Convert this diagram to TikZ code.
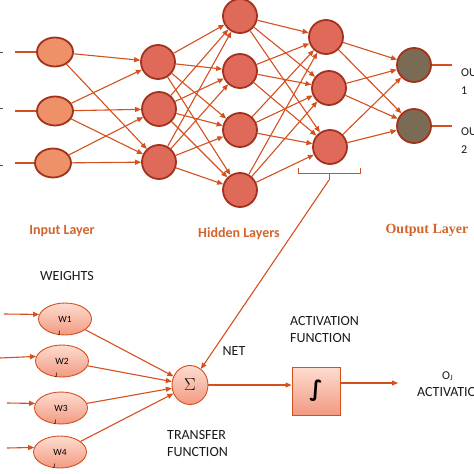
\documentclass[tikz,border=0pt]{standalone}
\usepackage{fontspec}
\setmainfont{Carlito}
\newfontfamily\layerserif{Liberation Serif}
\newfontfamily\glyphsans{DejaVu Sans}
\usetikzlibrary{arrows.meta,shapes.geometric}

\definecolor{edgeline}{HTML}{D4501E}
\definecolor{rimdark}{HTML}{A3321C}
\definecolor{inputfill}{HTML}{EE9068}
\definecolor{hiddenfill}{HTML}{E06A5A}
\definecolor{outputfill}{HTML}{7B6B55}
\definecolor{layertext}{HTML}{D2642C}
\definecolor{pinklight}{HTML}{FDDCD0}
\definecolor{pinkdeep}{HTML}{F29A82}

\tikzset{
    neuron/.style={circle, draw=rimdark, line width=1.8pt, minimum size=34pt, inner sep=0pt, fill=hiddenfill},
    inneuron/.style={ellipse, draw=rimdark, line width=1.8pt, minimum width=36pt, minimum height=29pt, inner sep=0pt, fill=inputfill},
    outneuron/.style={neuron, fill=outputfill},
    wire/.style={draw=edgeline, line width=1.1pt, -{Triangle[length=6pt,width=5pt]}},
    stub/.style={draw=edgeline, line width=1.1pt},
    weightnode/.style={ellipse, draw=edgeline, line width=0.9pt, top color=pinklight, bottom color=pinkdeep, minimum width=53pt, minimum height=32pt, inner sep=0pt, font=\fontsize{9.5}{10}\selectfont},
    layerlabel/.style={text=layertext, font=\fontsize{14}{16}\selectfont\bfseries, inner sep=0pt},
    plaintext/.style={text=black!90, font=\fontsize{14}{17.5}\selectfont, align=left, inner sep=0pt},
    sidetext/.style={plaintext, font=\fontsize{12}{14}\selectfont}
}

\begin{document}
\begin{tikzpicture}[x=1pt, y=-1pt]
        \clip (0, 0) rectangle (474, 474);

        % network
        \node[inneuron] (i1) at ( 55,  52) {};
        \node[inneuron] (i2) at ( 55, 111) {};
        \node[inneuron] (i3) at ( 53, 163) {};

        \node[neuron] (a1) at (158,  62) {};
        \node[neuron] (a2) at (159, 109) {};
        \node[neuron] (a3) at (159, 162) {};

        \node[neuron] (b1) at (240,  16) {};
        \node[neuron] (b2) at (240,  71) {};
        \node[neuron] (b3) at (240, 130) {};
        \node[neuron] (b4) at (240, 190) {};

        \node[neuron] (c1) at (326,  37) {};
        \node[neuron] (c2) at (329,  88) {};
        \node[neuron] (c3) at (330, 147) {};

        \node[outneuron] (o1) at (414,  65) {};
        \node[outneuron] (o2) at (414, 126) {};

        \foreach \s/\t in {i1/a1, i1/a3, i2/a1, i2/a2, i2/a3, i3/a2, i3/a3}
            \draw[wire] (\s) -- (\t);
        \foreach \s in {a1, a2, a3}
            \foreach \t in {b1, b2, b3, b4}
                \draw[wire] (\s) -- (\t);
        \foreach \s in {b1, b2, b3, b4}
            \foreach \t in {c1, c2, c3}
                \draw[wire] (\s) -- (\t);
        \foreach \s in {c1, c2, c3}
            \foreach \t in {o1, o2}
                \draw[wire] (\s) -- (\t);

        \foreach \n/\y in {1/52, 2/111, 3/163} {
            \coordinate (s\n) at (15, \y);
            \draw[stub] (s\n) -- (i\n);
        }
        \draw[black!70, line width=0.8pt] (0, 52) -- (3, 52);
        \draw[black!70, line width=0.8pt] (0, 108) -- (3, 108);
        \draw[black!70, line width=0.8pt] (0, 165) -- (3, 165);

        \coordinate (e1) at (452,  65);
        \coordinate (e2) at (452, 126);
        \draw[stub] (o1) -- (e1);
        \draw[stub] (o2) -- (e2);
        \node[sidetext, anchor=base west] (out1) at (461,  76) {OUTPUT};
        \node[sidetext, anchor=base west] (num1) at (461,  94) {1};
        \node[sidetext, anchor=base west] (out2) at (461, 135) {OUTPUT};
        \node[sidetext, anchor=base west] (num2) at (461, 153) {2};

        % bracket under last hidden layer
        \draw[stub, line width=0.9pt] (298, 168) -- (298, 173) -- (360, 173) -- (360, 168);
        \coordinate (brk) at (329, 180);
        \draw[stub, line width=0.9pt] (329, 173) -- (brk);

        \node[layerlabel, anchor=base] (lin) at ( 62, 234) {Input Layer};
        \node[layerlabel, anchor=base] (lhid) at (239, 237) {Hidden Layers};
        \node[layerlabel, anchor=base, font=\fontsize{14}{16}\selectfont\layerserif\bfseries] (lout) at (427, 233) {Output Layer};

        % single neuron
        \node[plaintext] (wlab) at ( 67, 276) {WEIGHTS};
        \node[weightnode] (w1) at ( 65, 319) {W1};
        \node[weightnode] (w2) at ( 62, 361) {W2};
        \node[weightnode] (w3) at ( 61, 408) {W3};
        \node[weightnode] (w4) at ( 60, 452) {W4};
        \foreach \n in {1, 2, 3, 4}
            \node[font=\fontsize{7}{7}\selectfont, inner sep=0pt] (j\n) at ([shift={(-6, 14)}]w\n.center) {J};

        \coordinate (x1) at (4, 314);
        \coordinate (x2) at (0, 358);
        \coordinate (x3) at (7, 403);
        \coordinate (x4) at (7, 448);
        \draw[wire] (x1) -- (w1.170);
        \draw[wire] (x2) -- (w2.170);
        \draw[wire] (x3) -- (w3.170);
        \draw[wire] (x4) -- (w4.170);

        \node[ellipse, draw=edgeline, line width=0.9pt, top color=pinklight, bottom color=pinkdeep, minimum width=36pt, minimum height=39pt, inner sep=0pt, font=\fontsize{16}{16}\selectfont] (sig) at (190, 385) {$\Sigma$};
        \foreach \n in {1, 2, 3, 4}
            \draw[wire] (w\n) -- (sig);
        \draw[wire] (brk) -- (sig);
        \node[plaintext] (net) at (234, 351) {NET};
        \node[plaintext, anchor=north west] (tf) at (167, 430) {TRANSFER\\FUNCTION};

        \node[draw=edgeline, line width=0.9pt, top color=pinklight, bottom color=pinkdeep, minimum size=48pt, inner sep=0pt, font=\fontsize{22}{22}\selectfont\glyphsans\bfseries] (act) at (316, 391) {∫};
        \draw[wire] (sig) -- (sig -| act.west);
        \node[plaintext, anchor=north west] (af) at (290, 316) {ACTIVATION\\FUNCTION};

        \coordinate (oj) at (398, 383);
        \draw[wire] (act.east |- oj) -- (oj);
        \node[sidetext, anchor=base west] (ojl) at (442, 379) {O\textsubscript{J}};
        \node[plaintext, anchor=base west] (ojt) at (417, 396) {ACTIVATION};
\end{tikzpicture}
\end{document}
